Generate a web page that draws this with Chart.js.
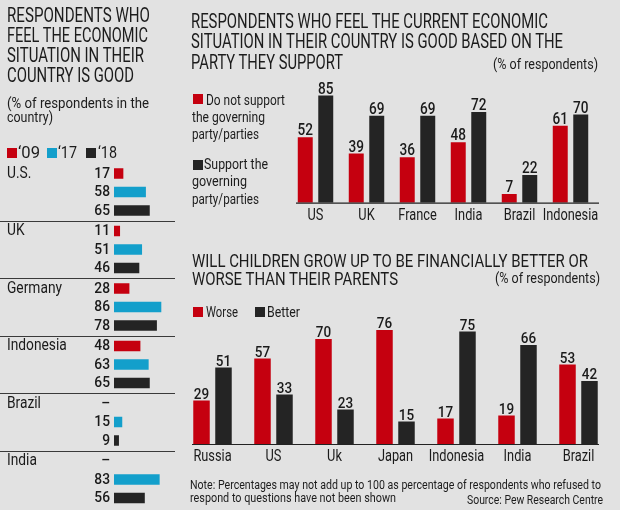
<!DOCTYPE html>
<html><head><meta charset="utf-8">
<script src="https://cdn.jsdelivr.net/npm/chart.js@4.4.1/dist/chart.umd.min.js"></script>
<style>
html,body{margin:0;padding:0;background:#e2e2e2;}
#wrap{position:relative;width:620px;height:510px;overflow:hidden;background:#e2e2e2;
 font-family:Roboto,'DejaVu Sans',sans-serif;color:#1c1c1c;}
canvas{position:absolute;left:0;top:0;}
.t{position:absolute;white-space:nowrap;transform-origin:0 50%;line-height:1;}
.sq{position:absolute;width:10px;height:10px;}
</style></head><body>
<div id="wrap">
<canvas id="c1" width="620" height="510"></canvas>
<canvas id="c2" width="620" height="510"></canvas>
<canvas id="c3" width="620" height="510"></canvas>
</div>
<script>
// ---- data ----
const countries = ["U.S.", "UK", "Germany", "Indonesia", "Brazil", "India"];
const v09 = [17, 11, 28, 48, null, null];
const v17 = [58, 51, 86, 63, 15, 83];
const v18 = [65, 46, 78, 65, 9, 56];

const partyCountries = ["US", "UK", "France", "India", "Brazil", "Indonesia"];
const notSupport = [52, 39, 36, 48, 7, 61];
const support = [85, 69, 69, 72, 22, 70];

const childCountries = ["Russia", "US", "Uk", "Japan", "Indonesia", "India", "Brazil"];
const worse = [29, 57, 70, 76, 17, 19, 53];
const better = [51, 33, 23, 15, 75, 66, 42];

const yearLabels = ["\u201809", "\u201817", "\u201818"];

// ---- styles ----
const RED = '#c5000f', CYAN = '#139fcb', DARK = '#242424', TXT = '#1a1a1a';
const FONT = "Roboto,'DejaVu Sans',sans-serif";

function txt(ctx, s, x, y, align, sx) {
  ctx.save(); ctx.translate(x, y); ctx.scale(sx, 1);
  ctx.textAlign = align; ctx.fillText(s, 0, 0); ctx.restore();
}

// ---- left chart ----
const leftPlugin = {
  id: 'leftPlugin',
  afterDatasetsDraw(chart) {
    const ctx = chart.ctx, ys = chart.scales.y, ca = chart.chartArea;
    const cw = ys.getPixelForValue(1) - ys.getPixelForValue(0);
    const slot = cw * 0.96 / 3;
    ctx.save();
    ctx.strokeStyle = '#3a3a3a'; ctx.lineWidth = 1;
    for (let i = 0; i < countries.length - 1; i++) {
      const y = Math.round((ys.getPixelForValue(i) + ys.getPixelForValue(i + 1)) / 2) + 0.5;
      ctx.beginPath(); ctx.moveTo(0, y); ctx.lineTo(175, y); ctx.stroke();
    }
    ctx.fillStyle = TXT; ctx.textBaseline = 'middle';
    ctx.font = '16px ' + FONT;
    countries.forEach((c, i) => txt(ctx, c, 7, ys.getPixelForValue(i) - slot, 'left', 0.86));
    ctx.font = '500 15px ' + FONT;
    chart.data.datasets.forEach((ds, d) => {
      ds.data.forEach((v, i) => {
        const y = ys.getPixelForValue(i) + (d - 1) * slot;
        txt(ctx, v == null ? '\u2013' : String(v), ca.left - 4, y + 0.5, 'right', 0.92);
      });
    });
    ctx.restore();
  }
};

new Chart(document.getElementById('c1'), {
  type: 'bar',
  data: { labels: countries, datasets: [
    { label: yearLabels[0], data: v09, backgroundColor: RED },
    { label: yearLabels[1], data: v17, backgroundColor: CYAN },
    { label: yearLabels[2], data: v18, backgroundColor: DARK } ] },
  options: {
    indexAxis: 'y', responsive: false, animation: false, events: [],
    layout: { padding: { left: 114, right: 451, top: 163.25, bottom: 1.75 } },
    datasets: { bar: { categoryPercentage: 0.96, barPercentage: 0.57 } },
    scales: { x: { display: false, min: 0, max: 100 }, y: { display: false } },
    plugins: { legend: { display: false }, tooltip: { enabled: false } }
  },
  plugins: [leftPlugin]
});

// ---- column charts ----
function colPlugin(id, lineL, lineR, labelDy, valFont, valSx) {
  return {
    id: id,
    afterDatasetsDraw(chart) {
      const ctx = chart.ctx, xs = chart.scales.x, ca = chart.chartArea;
      ctx.save();
      ctx.strokeStyle = '#222'; ctx.lineWidth = 1.2;
      ctx.beginPath(); ctx.moveTo(ca.left + lineL, ca.bottom + 0.5); ctx.lineTo(ca.right + lineR, ca.bottom + 0.5); ctx.stroke();
      ctx.fillStyle = TXT;
      ctx.font = valFont; ctx.textBaseline = 'alphabetic';
      chart.data.datasets.forEach((ds, d) => {
        chart.getDatasetMeta(d).data.forEach((el, i) => {
          txt(ctx, String(ds.data[i]), el.x, el.y - 2, 'center', valSx);
        });
      });
      ctx.font = '16px ' + FONT; ctx.textBaseline = 'middle';
      chart.data.labels.forEach((l, i) => txt(ctx, l, xs.getPixelForValue(i), ca.bottom + labelDy, 'center', 0.8));
      ctx.restore();
    }
  };
}

new Chart(document.getElementById('c2'), {
  type: 'bar',
  data: { labels: partyCountries, datasets: [
    { label: 'Do not support the governing party/parties', data: notSupport, backgroundColor: RED },
    { label: 'Support the governing party/parties', data: support, backgroundColor: DARK } ] },
  options: {
    responsive: false, animation: false, events: [],
    layout: { padding: { left: 290, right: 24, top: 76.7, bottom: 307.3 } },
    datasets: { bar: { categoryPercentage: 0.804, barPercentage: 0.73 } },
    scales: { x: { display: false }, y: { display: false, min: 0, max: 100 } },
    plugins: { legend: { display: false }, tooltip: { enabled: false } }
  },
  plugins: [colPlugin('p2', 6, 3, 13.3, '500 16px ' + FONT, 0.85)]
});

new Chart(document.getElementById('c3'), {
  type: 'bar',
  data: { labels: childCountries, datasets: [
    { label: 'Worse', data: worse, backgroundColor: RED },
    { label: 'Better', data: better, backgroundColor: DARK } ] },
  options: {
    responsive: false, animation: false, events: [],
    layout: { padding: { left: 182, right: 11, top: 294, bottom: 66 } },
    datasets: { bar: { categoryPercentage: 0.721, barPercentage: 0.75 } },
    scales: { x: { display: false }, y: { display: false, min: 0, max: 100 } },
    plugins: { legend: { display: false }, tooltip: { enabled: false } }
  },
  plugins: [colPlugin('p3', 10, -10, 12.5, '500 15px ' + FONT, 0.9)]
});

// ---- HTML texts (text, x, centerY, targetWidth, size, lowercaseShift) ----
const TEXTS = [
  ['RESPONDENTS WHO', 7, 15, 143, 20],
  ['FEEL THE ECONOMIC', 7, 35, 141, 20],
  ['SITUATION IN THEIR', 7, 55, 137, 20],
  ['COUNTRY IS GOOD', 7, 75, 127, 20],
  ['(% of respondents in the', 7, 105, 142, 15, 1],
  ['country)', 7, 118.5, 46, 15, 1],
  [yearLabels[0], 18, 153, 22, 16],
  [yearLabels[1], 58, 153, 19, 16],
  [yearLabels[2], 98, 153, 19, 16],
  ['RESPONDENTS WHO FEEL THE CURRENT ECONOMIC', 191, 21, 357, 20],
  ['SITUATION IN THEIR COUNTRY IS GOOD BASED ON THE', 191, 41, 372, 20],
  ['PARTY THEY SUPPORT', 191, 62, 152, 20],
  ['(% of respondents)', 493, 64, 105, 15],
  ['Do not support', 206, 100, 79, 15],
  ['the governing', 192, 119, 73, 15, 1],
  ['party/parties', 192, 136, 67, 15, 1],
  ['Support the', 204, 164, 64, 15],
  ['governing', 192, 183, 55, 15, 1],
  ['party/parties', 192, 201, 67, 15, 1],
  ['WILL CHILDREN GROW UP TO BE FINANCIALLY BETTER OR', 192, 260, 396, 19],
  ['WORSE THAN THEIR PARENTS', 192, 278, 206, 19],
  ['(% of respondents)', 495, 278, 105, 15],
  ['Worse', 206, 312, 32, 15],
  ['Better', 267, 312, 33, 15],
  ['Note: Percentages may not add up to 100 as percentage of respondents who refused to', 190, 486, 411, 13, 1],
  ['respond to questions have not been shown', 190, 499, 206, 13, 1],
  ['Source: Pew Research Centre', 467, 499, 136, 13]
];
const SQUARES = [[7, 148, RED], [47, 148, CYAN], [86, 148, DARK], [193, 94, RED], [193, 160, DARK], [193, 307, RED], [255, 307, DARK]];

const wrap = document.getElementById('wrap');
SQUARES.forEach(s => {
  const d = document.createElement('div'); d.className = 'sq';
  d.style.left = s[0] + 'px'; d.style.top = s[1] + 'px'; d.style.background = s[2];
  wrap.appendChild(d);
});
TEXTS.forEach(t => {
  const d = document.createElement('div'); d.className = 't';
  d.textContent = t[0];
  d.style.fontSize = t[4] + 'px';
  d.style.left = t[1] + 'px';
  d.style.top = (t[2] - t[4] / 2 - (t[5] ? 0.09 * t[4] : 0)) + 'px';
  wrap.appendChild(d);
  const w = d.getBoundingClientRect().width;
  if (w > 0) d.style.transform = 'scaleX(' + (t[3] / w).toFixed(4) + ')';
});
</script>
</body></html>
